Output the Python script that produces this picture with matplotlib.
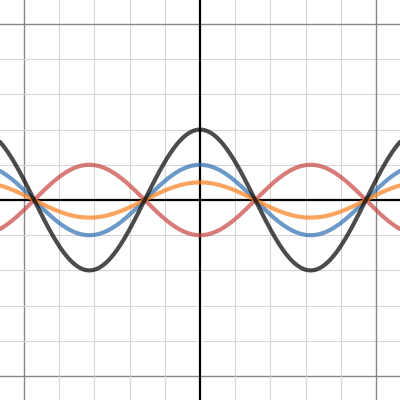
import numpy as np
import matplotlib.pyplot as plt

# curves y = a*cos(x): amplitude and colour, in drawing order
amps = [-1.0, 1.0, 0.5, 2.0]
colors = ['#c74440', '#2d70b3', '#fa7e19', '#000000']
lim = 200 / 35.2

fig = plt.figure(figsize=(4, 4), dpi=100)
ax = fig.add_axes([0, 0, 1, 1])
ax.set_xlim(-lim, lim)
ax.set_ylim(-lim, lim)
ax.axis('off')

# grid
for v in range(-6, 7):
    if v == 0:
        continue
    c, w = ('#888888', 1.0) if v % 5 == 0 else ('#d6d6d6', 0.8)
    ax.axvline(v, color=c, lw=w, zorder=0)
    ax.axhline(v, color=c, lw=w, zorder=0)
ax.axvline(0, color='black', lw=1.6, zorder=1)
ax.axhline(0, color='black', lw=1.6, zorder=1)

x = np.linspace(-lim, lim, 800)
for a, c in zip(amps, colors):
    ax.plot(x, a * np.cos(x), color=c, lw=3, alpha=0.7,
            solid_capstyle='round', zorder=2)

fig.savefig('out.png', dpi=100)
